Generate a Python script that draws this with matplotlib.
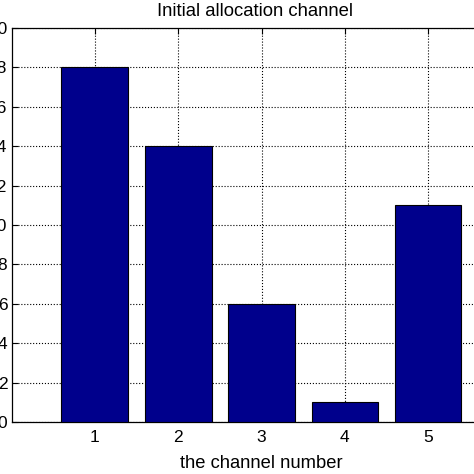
import matplotlib
matplotlib.use("Agg")
import matplotlib.pyplot as plt

# --- Données ---
channels = [1, 2, 3, 4, 5]
counts = [18, 14, 6, 1, 11]
yticks = list(range(0, 21, 2))

plt.rcParams["font.family"] = ["Liberation Sans", "DejaVu Sans"]

fig = plt.figure(figsize=(4.74, 4.74), dpi=100)
W, H = 474, 474
# axes deliberately extends past the right edge (cropped like the reference)
ax = fig.add_axes([11.5 / W, 52 / H, 500 / W, 394 / H])

ax.bar(channels, counts, width=0.8, color="#00008C", edgecolor="black",
       linewidth=0.8, zorder=3)

ax.set_xlim(0, 6)
ax.set_ylim(0, 20)
ax.set_xticks(channels)
ax.set_yticks(yticks)
ax.tick_params(direction="in", top=True, right=True, length=4,
               labelsize=12.5, width=0.8)
ax.tick_params(axis="x", pad=6)
ax.tick_params(axis="y", pad=3)
ax.grid(True, linestyle=":", color="black", linewidth=0.8, zorder=0)
ax.set_axisbelow(True)
for s in ax.spines.values():
    s.set_linewidth(0.9)

ax.set_xlabel("the channel number", fontsize=13.2, labelpad=7)
fig.text(255 / W, 1 - 11 / H, "Initial allocation channel",
         ha="center", va="center", fontsize=13.3)

fig.savefig("out.png", dpi=100)
